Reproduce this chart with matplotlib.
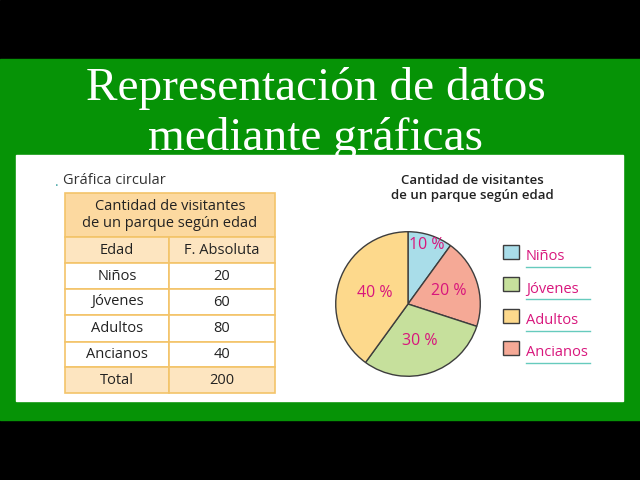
import matplotlib
matplotlib.use("Agg")
import matplotlib.pyplot as plt
import numpy as np
from matplotlib.patches import Rectangle

# ---- data ----
title_lines = ["Representación de datos", "mediante gráficas"]
section_label = "Gráfica circular"
chart_title = "Cantidad de visitantes\nde un parque según edad"
col_headers = ["Edad", "F. Absoluta"]
categories = ["Niños", "Jóvenes", "Adultos", "Ancianos"]
counts = [20, 60, 80, 40]
total_label = "Total"
total_value = 200
pie_order = ["Niños", "Ancianos", "Jóvenes", "Adultos"]   # clockwise from top
pie_pcts = [10, 20, 30, 40]

colors = {"Niños": "#a9dde9", "Jóvenes": "#c6e09c", "Adultos": "#fdd98c", "Ancianos": "#f5a996"}
pink = "#d8167c"
teal = "#66cbbd"
border = "#f3c469"

W, H = 640, 480
fig = plt.figure(figsize=(6.4, 4.8), dpi=100)
bg = fig.add_axes([0, 0, 1, 1])
bg.set_xlim(0, W); bg.set_ylim(H, 0); bg.axis("off")

sans = "Open Sans"

# backgrounds
bg.add_patch(Rectangle((0, 0), W, H, color="black", zorder=0))
bg.add_patch(Rectangle((0, 59), W, 361, color="#069306", zorder=0))

for i, line in enumerate(title_lines):
    bg.text(316, 88 + 50 * i, line, ha="center", va="center", color="white",
            fontsize=34, family="Liberation Serif", zorder=1)

bg.add_patch(Rectangle((16, 155), 607, 246, color="white", zorder=2))

bg.text(55, 182, ".", ha="left", va="center", color="#3aa0a0", fontsize=10, family=sans, zorder=3)
bg.text(63, 181, section_label, ha="left", va="center", color="#333333", fontsize=10.5, family=sans, zorder=3)

# table
x0, xm, x1 = 65, 169, 275
y_title0, y_title1 = 193, 237
row_edges = [237, 263, 289, 315, 342, 367, 393]
bg.add_patch(Rectangle((x0, y_title0), x1 - x0, y_title1 - y_title0, facecolor="#fcd9a0",
                       edgecolor=border, lw=1.2, zorder=3))
bg.text((x0 + x1) / 2, (y_title0 + y_title1) / 2, chart_title, ha="center", va="center",
        color="#222222", fontsize=10.5, family=sans, linespacing=1.1, zorder=4)
rows = [col_headers] + [[c, str(v)] for c, v in zip(categories, counts)] + [[total_label, str(total_value)]]
for r, row in enumerate(rows):
    ya, yb = row_edges[r], row_edges[r + 1]
    fill = "#fde5c0" if r in (0, len(rows) - 1) else "white"
    for (xa, xb), txt in zip([(x0, xm), (xm, x1)], row):
        bg.add_patch(Rectangle((xa, ya), xb - xa, yb - ya, facecolor=fill, edgecolor=border, lw=1.2, zorder=3))
        bg.text((xa + xb) / 2, (ya + yb) / 2, txt, ha="center", va="center",
                color="#222222", fontsize=10.5, family=sans, zorder=4)

# pie chart title
bg.text(472, 188, chart_title, ha="center", va="center", color="#222222",
        fontsize=9.5, family=sans, fontweight="semibold", linespacing=1.15, zorder=4)

# pie
cx, cy, r = 408, 304, 73
pax = fig.add_axes([(cx - r) / W, 1 - (cy + r) / H, 2 * r / W, 2 * r / H])
wedges, _ = pax.pie(pie_pcts, colors=[colors[c] for c in pie_order], startangle=90,
                    counterclock=False,
                    wedgeprops=dict(edgecolor="#3d3d3d", linewidth=1.0))
pax.set_xlim(-1.01, 1.01); pax.set_ylim(-1.01, 1.01)
pax.set_aspect("auto")
label_dist = [0.86, 0.6, 0.54, 0.48]
for w, p, d in zip(wedges, pie_pcts, label_dist):
    ang = np.deg2rad((w.theta1 + w.theta2) / 2)
    pax.text(d * np.cos(ang), d * np.sin(ang), f"{p} %", ha="center", va="center",
             color=pink, fontsize=11.5, family=sans)

# legend
for i, c in enumerate(categories):
    yc = 252 + 32 * i
    bg.add_patch(Rectangle((503, yc - 7), 16, 14, facecolor=colors[c], edgecolor="#3d3d3d", lw=1.0, zorder=3))
    bg.text(526, yc + 5, c, ha="left", va="center", color=pink, fontsize=10.5, family=sans, zorder=4)
    bg.plot([526, 590], [yc + 15, yc + 15], color=teal, lw=1, zorder=4)

fig.savefig("out.png", dpi=100)
